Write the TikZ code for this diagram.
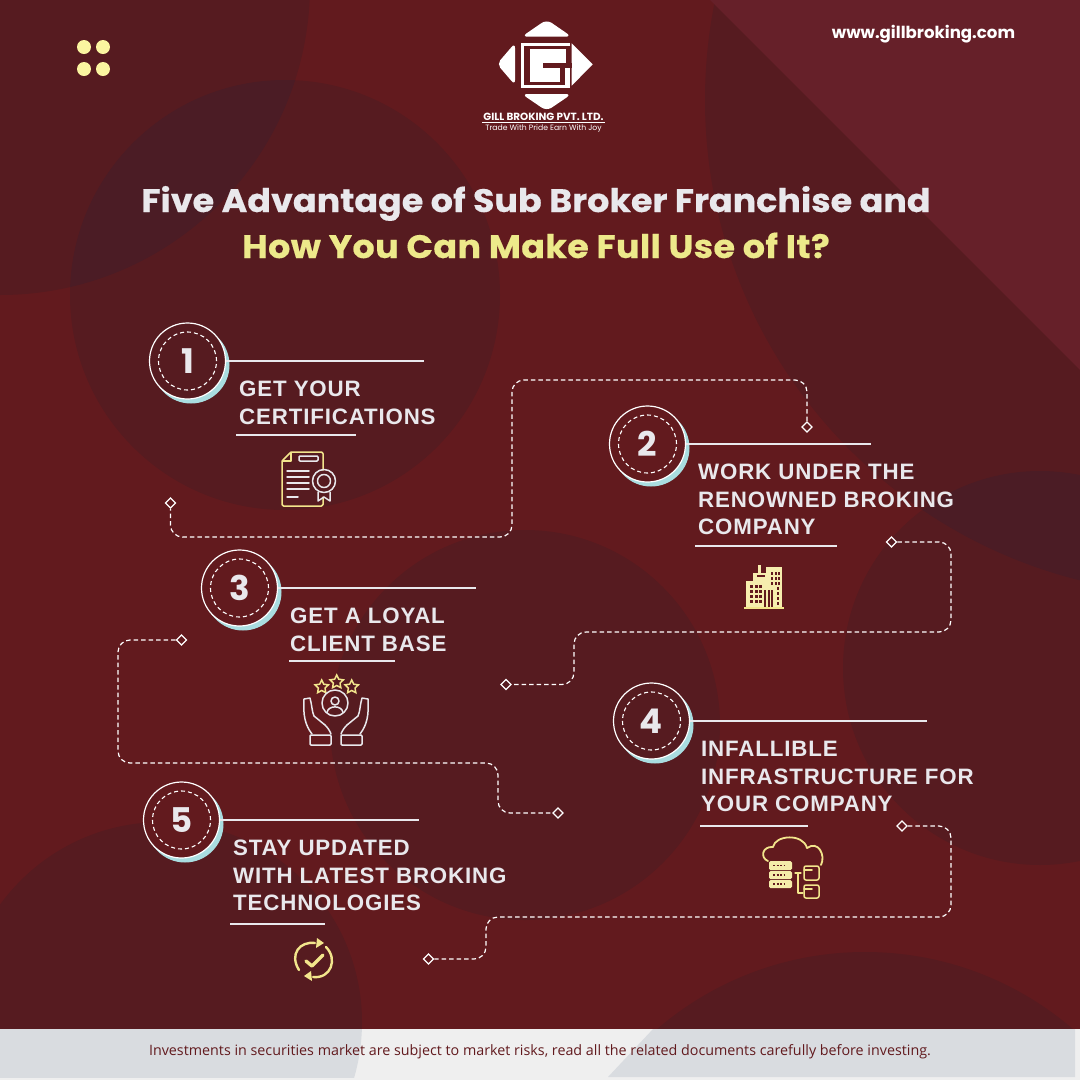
\documentclass[tikz,border=0pt]{standalone}
\usepackage{fontspec}
\usetikzlibrary{shapes.geometric}
\setmainfont{Poppins}
\newfontfamily\titlefont[FakeStretch=1.075,FakeBold=0.4]{Poppins}
\newfontfamily\labelfont[LetterSpace=3.8]{Liberation Sans}
\newfontfamily\footfont{Open Sans}
\definecolor{basered}{HTML}{621A1E}
\definecolor{darkred}{HTML}{561B20}
\definecolor{overred}{HTML}{4B1C25}
\definecolor{lightred}{HTML}{662029}
\definecolor{paleblue}{HTML}{A9DDE0}
\definecolor{iconyellow}{HTML}{F2E58C}
\definecolor{titleyellow}{HTML}{EDE98A}
\definecolor{dotyellow}{HTML}{FBF5A0}
\definecolor{offwhite}{HTML}{E9E8EC}
\definecolor{footgrey}{HTML}{D9DCE0}
\definecolor{footlight}{HTML}{EFEFEF}
\tikzset{
  backcircle/.style = {fill = darkred, draw = none},
  ring/.style = {circle, draw = white, fill = darkred, line width = 1.2pt, minimum size = 76pt, inner sep = 0pt},
  ringin/.style = {circle, draw = white, dash pattern = on 4pt off 3pt, line width = 1.1pt, minimum size = 58pt, inner sep = 0pt},
  crescent/.style = {circle, fill = paleblue, minimum size = 77pt, inner sep = 0pt},
  num/.style = {font = \bfseries\fontsize{34}{34}\selectfont, text = offwhite, inner sep = 0pt},
  head/.style = {font = \labelfont\bfseries\fontsize{22.3}{27.5}\selectfont, text = offwhite, align = left, anchor = north west, inner sep = 0pt},
  rule/.style = {draw = offwhite, line width = 1.1pt},
  route/.style = {draw = white, dash pattern = on 4.5pt off 3pt, line width = 1.2pt, rounded corners = 12pt},
  stop/.style = {diamond, draw = white, fill = none, line width = 1.3pt, minimum size = 10.5pt, inner sep = 0pt},
  iconline/.style = {draw = iconyellow, line width = 1.5pt, line cap = round, line join = round},
  iconwhite/.style = {draw = offwhite, line width = 1.5pt, line cap = round, line join = round},
  starmark/.style = {star, star points = 5, star point ratio = 2, draw = iconyellow, line width = 1.5pt, minimum size = 14pt, inner sep = 0pt},
  titleline/.style = {font = \titlefont\bfseries\fontsize{32.5}{33}\selectfont, anchor = base, inner sep = 0pt},
}
\begin{document}
\begin{tikzpicture}[x=1pt,y=-1pt]

    \useasboundingbox (0,0) rectangle (1080,1080);
    \fill[basered] (0,0) rectangle (1080,1080);

    % back shapes
    \begin{scope}
    \clip (0,0) rectangle (1080,1030);
    \fill[backcircle] (1200,100) circle (495);
    \fill[lightred] (710,0) -- (1080,370) -- (1080,0) -- cycle;
    \fill[backcircle] (0,-15) circle (310);
    \fill[backcircle] (285,295) circle (215);
    \fill[backcircle] (525,725) circle (195);
    \fill[backcircle] (1040,668) circle (197);
    \fill[backcircle] (162,1022) circle (200);
    \fill[backcircle] (865,1271) circle (319);
    % overlaps
    \begin{scope}
        \clip (0,-15) circle (310);
        \fill[overred] (285,295) circle (215);
    \end{scope}
    \begin{scope}
        \clip (1200,100) circle (495);
        \clip (710,0) -- (1080,370) -- (1080,1080) -- (700,1080) -- cycle;
        \fill[overred] (1040,668) circle (197);
    \end{scope}
    \end{scope}

    % footer
    \fill[footlight] (0,1029) rectangle (1080,1080);
    \begin{scope}
    \clip (0,1029) rectangle (1080,1077);
    \fill[footgrey] (162,1022) circle (200);
    \fill[footgrey] (653,1029) -- (1075,1029) -- (1075,1077) -- (608,1077) -- cycle;
    \end{scope}
    \node[font = \footfont\fontsize{14.3}{16}\selectfont, text = basered, inner sep = 0pt, anchor = base] (foot) at (540,1055)
        {Investments in securities market are subject to market risks, read all the related documents carefully before investing.};

    % dots
    \fill[dotyellow] (84,47) circle (7);
    \fill[dotyellow] (103,47) circle (7);
    \fill[dotyellow] (84,69) circle (7);
    \fill[dotyellow] (103,69) circle (7);

    \node[font = \bfseries\fontsize{16.6}{17}\selectfont, text = white, inner sep = 0pt, anchor = base] (web) at (923.5,38.5) {www.gillbroking.com};

    % logo
    \fill[white, rounded corners = 6pt] (521.7,36.7) -- (546.7,19.5) -- (571.7,36.7) -- cycle;
    \fill[white, rounded corners = 6pt] (521.7,94) -- (546.7,111) -- (571.7,94) -- cycle;
    \fill[white, rounded corners = 5pt] (515,43) -- (515,85) -- (497,64) -- cycle;
    \fill[white] (515,48) rectangle (513,80);
    \fill[white] (571.7,43.3) -- (592.7,64.3) -- (571.7,85.7) -- cycle;
    \draw[white, line width = 3pt] (570,44) -- (522.5,44) -- (522.5,86.5) -- (570,86.5);
    \fill[white] (530,48.5) rectangle (560,82);
    \fill[white] (560,48.5) rectangle (566,63);
    \fill[basered] (543,63) rectangle (571.5,68);
    \fill[white] (565,68) rectangle (570,86);
    \node[font = \bfseries\fontsize{10.4}{10}\selectfont, text = white, inner sep = 0pt] (brand) at (543.5,116.5) {GILL BROKING PVT. LTD.};
    \draw[white, line width = .7pt] (482,122.7) -- (605,122.7);
    \node[font = \fontsize{7.7}{8}\selectfont, text = white, inner sep = 0pt] (slogan) at (543.5,128.5) {Trade With Pride Earn With Joy};

    % title
    \node[titleline, text = offwhite] (title1) at (536,212) {Five Advantage of Sub Broker Franchise and};
    \node[titleline, text = titleyellow] (title2) at (536,258) {\addfontfeature{LetterSpace=1.1}How You Can Make Full Use of It?};

    % badge 1
    \node[crescent] (c1) at (191,365) {};
    \node[ring] (r1) at (187.5,361) {};
    \node[ringin] (i1) at (r1.center) {};
    \node[num] at (r1.center) {1};
    \coordinate (e1) at (424,361);
    \draw[rule] (r1.east) -- (e1);
    \node[head] (t1) at (239,381) {GET YOUR\\CERTIFICATIONS};
    \draw[rule] (236,435) -- (356,435);

    % badge 2
    \node[crescent] (c2) at (651,448) {};
    \node[ring, fill = basered] (r2) at (647.5,444) {};
    \node[ringin] (i2) at (r2.center) {};
    \node[num] at (r2.center) {2};
    \coordinate (e2) at (871,444);
    \draw[rule] (r2.east) -- (e2);
    \node[head] (t2) at (698,464) {WORK UNDER THE\\RENOWNED BROKING\\COMPANY};
    \draw[rule] (695,546) -- (837,546);

    % badge 3
    \node[crescent] (c3) at (243,592) {};
    \node[ring, fill = basered] (r3) at (239.5,588) {};
    \node[ringin] (i3) at (r3.center) {};
    \node[num] at (r3.center) {3};
    \coordinate (e3) at (476,588);
    \draw[rule] (r3.east) -- (e3);
    \node[head] (t3) at (290,608) {GET A LOYAL\\CLIENT BASE};
    \draw[rule] (289,661) -- (395,661);

    % badge 4
    \node[crescent] (c4) at (655,725) {};
    \node[ring] (r4) at (651.5,721) {};
    \node[ringin] (i4) at (r4.center) {};
    \node[num] at (r4.center) {4};
    \coordinate (e4) at (927,721);
    \draw[rule] (r4.east) -- (e4);
    \node[head] (t4) at (701,741) {INFALLIBLE\\INFRASTRUCTURE FOR\\YOUR COMPANY};
    \draw[rule] (700,826) -- (808,826);

    % badge 5
    \node[crescent] (c5) at (185,824) {};
    \node[ring, fill = basered] (r5) at (181.5,820) {};
    \node[ringin] (i5) at (r5.center) {};
    \node[num] at (r5.center) {5};
    \coordinate (e5) at (419,820);
    \draw[rule] (r5.east) -- (e5);
    \node[head] (t5) at (233,840) {STAY UPDATED\\WITH LATEST BROKING\\TECHNOLOGIES};
    \draw[rule] (230,924) -- (325,924);

    % routes
    \node[stop] (s1a) at (807,427) {};
    \node[stop] (s1b) at (170.5,503) {};
    \node[stop] (s2a) at (891.5,542) {};
    \node[stop] (s2b) at (506,684.5) {};
    \node[stop] (s3a) at (181.5,640) {};
    \node[stop] (s3b) at (558,813) {};
    \node[stop] (s4a) at (902,826) {};
    \node[stop] (s4b) at (428.5,959) {};
    \draw[route] (s1a.north) |- (512,380) -- (512,537) -| (s1b.south);
    \draw[route] (s2a.east) -| (951,632) -| (574,684.5) -- (s2b.east);
    \draw[route] (s3a.west) -| (118,763) -| (498,813) -- (s3b.west);
    \draw[route] (s4a.east) -| (951,917) -| (486,959) -- (s4b.east);

    % certificate icon
    \draw[iconline, rounded corners = 1.5pt] (323,470) -- (323,452) -- (291,452) -- (282,461) -- (282,506) -- (323,506) -- (323,497);
    \draw[iconline] (291,452) -- (291,461) -- (282,461);
    \draw[iconwhite, rounded corners = 1pt] (299,456) rectangle (318,461);
    \draw[iconwhite] (287,471) -- (309,471) (287,477) -- (309,477) (287,483) -- (309,483) (287,489) -- (309,489) (287,497) -- (298,497);
    \draw[iconwhite] (324,481) circle (11.5);
    \draw[iconwhite] (324,481) circle (6.5);
    \draw[iconwhite] (318,492) -- (318,501) -- (324,497) -- (330,501) -- (330,492);

    % building icon
    \fill[iconyellow!70!white] (746,581) rectangle (767,607);
    \fill[iconyellow!70!white] (753,573) rectangle (768,607);
    \fill[iconyellow!70!white] (766,567) rectangle (782,607);
    \fill[iconyellow!70!white] (758,565) rectangle (761,574);
    \draw[iconyellow, line width = 1.5pt] (744,608) -- (784,608);
    \foreach \px in {750,755,759} \foreach \py in {585,590,595,600} {\fill[basered] (\px,\py) rectangle ++(2.5,2.5);}
    \foreach \px in {771,775,778} \foreach \py in {572,577,582} {\fill[basered] (\px,\py) rectangle ++(2,2.5);}
    \foreach \py in {587,592,597,602} {\fill[basered] (777,\py) rectangle ++(2,2.5);}
    \foreach \px in {764,768,771} {\fill[basered] (\px,590) rectangle ++(1.7,17);}
    \fill[basered] (757,575) rectangle (765,577);

    % hands icon
    \node[starmark] (st1) at (321.7,687) {};
    \node[starmark] (st2) at (336.7,682) {};
    \node[starmark] (st3) at (351.7,687) {};
    \draw[iconwhite] (335,703) circle (13);
    \draw[iconwhite] (335,701) circle (4);
    \draw[iconwhite] (327,712.5) .. controls (328,705) and (342,705) .. (343,712.5);
    \draw[iconwhite] (312,734) .. controls (305,725) and (303,715) .. (304,699) -- (310,698) .. controls (312,705) and (312,712) .. (314,716) -- (325,725) .. controls (331,731) and (331,735) .. (331,734);
    \draw[iconwhite, rounded corners = 1pt] (310,735) rectangle (331,745);
    \draw[iconwhite] (360,734) .. controls (367,725) and (369,715) .. (368,699) -- (362,698) .. controls (360,705) and (360,712) .. (358,716) -- (347,725) .. controls (341,731) and (341,735) .. (341,734);
    \draw[iconwhite, rounded corners = 1pt] (341,735) rectangle (362,745);

    % cloud icon
    \draw[iconline, line width = 1.8pt] (768,861) .. controls (760,858) and (762,846) .. (773,847) .. controls (775,835) and (803,833) .. (807,848) .. controls (818,840) and (826,855) .. (821,865);
    \fill[iconyellow!75!white, rounded corners = 1.5pt] (769,861) rectangle (792,870);
    \fill[iconyellow!75!white, rounded corners = 1.5pt] (769,871) rectangle (792,879);
    \fill[iconyellow!75!white, rounded corners = 1.5pt] (769,880) rectangle (792,888);
    \draw[basered, line width = 1.8pt, dash pattern = on 2pt off 1.5pt] (773,865.5) -- (784,865.5) (773,875) -- (784,875) (773,884) -- (784,884);
    \draw[iconline, line width = 1.2pt] (795,873) -- (801,873) (798,873) -- (798,893) -- (803,893);
    \draw[iconline, rounded corners = 2pt] (804,866) rectangle (819,880);
    \draw[iconline] (804,870) -- (812,870);
    \draw[iconline, rounded corners = 2pt] (804,885) rectangle (819,898);
    \draw[iconline] (804,889) -- (812,889);

    % refresh icon
    \draw[iconline, line width = 2.4pt] (299,970) .. controls (289,954) and (300,941) .. (315,943);
    \fill[iconyellow] (317,938) -- (324,943) -- (316,948) -- cycle;
    \draw[iconline, line width = 2.4pt] (326,947) .. controls (338,959) and (331,979) .. (313,977);
    \fill[iconyellow] (311,971) -- (304,976) -- (312,981) -- cycle;
    \draw[iconline, line width = 3.4pt] (306,961) -- (312,966) -- (323,955);

\end{tikzpicture}
\end{document}
